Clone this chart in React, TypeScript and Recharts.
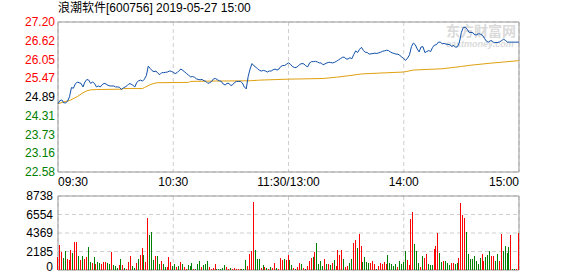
import { ComposedChart, Line, Bar, XAxis, YAxis, CartesianGrid, ReferenceArea } from "recharts"

// one point per minute, 09:30 .. 11:30 then 13:00 .. 15:00 (241 points)
const prices = [
  24.68, 24.78, 24.8, 24.71, 24.71, 24.76, 24.9, 25.18, 25.16, 25.29,
  25.35, 25.33, 25.31, 25.2, 25.35, 25.43, 25.41, 25.31, 25.35, 25.31,
  25.2, 25.23, 25.2, 25.27, 25.31, 25.29, 25.25, 25.23, 25.23, 25.23,
  25.2, 25.2, 25.19, 25.12, 25.17, 25.2, 25.24, 25.3, 25.29, 25.25,
  25.2, 25.34, 25.39, 25.41, 25.38, 25.44, 25.55, 25.84, 25.77, 25.7,
  25.67, 25.69, 25.62, 25.58, 25.64, 25.64, 25.65, 25.66, 25.69, 25.68,
  25.65, 25.61, 25.64, 25.7, 25.75, 25.71, 25.66, 25.61, 25.56, 25.51,
  25.52, 25.5, 25.45, 25.43, 25.42, 25.43, 25.39, 25.37, 25.31, 25.33,
  25.37, 25.45, 25.46, 25.42, 25.39, 25.37, 25.29, 25.26, 25.31, 25.31,
  25.24, 25.27, 25.34, 25.37, 25.37, 25.37, 25.32, 25.2, 25.14, 25.52,
  25.75, 25.92, 25.85, 25.81, 25.75, 25.71, 25.69, 25.71, 25.69, 25.66,
  25.69, 25.69, 25.73, 25.75, 25.72, 25.75, 25.83, 25.86, 25.86, 25.9,
  25.94, 25.9, 25.83, 25.8, 25.8, 25.84, 25.9, 25.92, 25.91, 25.85,
  25.82, 25.94, 25.98, 25.98, 25.99, 25.97, 25.94, 25.94, 25.88, 25.91,
  25.94, 25.96, 25.95, 25.94, 25.96, 25.99, 26.03, 26.07, 26.11, 26.12,
  26.06, 26.06, 26.1, 26.07, 26.2, 26.31, 26.26, 26.36, 26.42, 26.32,
  26.27, 26.26, 26.21, 26.22, 26.23, 26.24, 26.23, 26.25, 26.27, 26.3,
  26.31, 26.33, 26.32, 26.28, 26.25, 26.23, 26.21, 26.21, 26.17, 26.12,
  26.07, 26.02, 26.09, 26.19, 26.44, 26.55, 26.5, 26.37, 26.28, 26.43,
  26.44, 26.26, 26.29, 26.32, 26.29, 26.42, 26.49, 26.5, 26.58, 26.58,
  26.53, 26.54, 26.52, 26.51, 26.5, 26.45, 26.48, 26.42, 26.44, 26.58,
  26.88, 27.03, 27.04, 26.98, 26.88, 26.88, 26.87, 26.8, 26.81, 26.84,
  26.82, 26.79, 26.7, 26.61, 26.58, 26.62, 26.62, 26.56, 26.57, 26.57,
  26.59, 26.63, 26.67, 26.63, 26.58, 26.58, 26.58, 26.58, 26.58, 26.58,
  26.58,
]

// average price line, read at the minutes where it bends
const avgIdx = [0, 3, 6, 10, 13, 15, 17, 20, 33, 34, 44, 45, 48, 50, 52, 68, 69, 80, 100, 105, 120, 138, 145, 152, 158, 165, 180, 185, 200, 210, 215, 225, 240]
const avgVal = [24.68, 24.74, 24.78, 24.9, 25.02, 25.08, 25.11, 25.12, 25.13, 25.15, 25.15, 25.18, 25.27, 25.31, 25.33, 25.34, 25.37, 25.38, 25.39, 25.41, 25.44, 25.46, 25.5, 25.55, 25.6, 25.62, 25.66, 25.72, 25.76, 25.83, 25.87, 25.93, 26.01]

const volumes = [
  1500,
  2955, 2128, 1418, 2246, 1300, 1182, 2364, 2009, 3310, 3310,
  1655, 1182, 1655, 1300, 1537, 2719, 946, 827, 1537, 709,
  946, 827, 709, 946, 946, 827, 709, 2128, 591, 473,
  236, 591, 1300, 591, 236, 118, 946, 1655, 473, 236,
  827, 1300, 1773, 2600, 1773, 946, 6146, 4137, 4492, 1182,
  1655, 1655, 709, 1064, 709, 355, 355, 1537, 946, 473,
  709, 355, 473, 946, 709, 355, 118, 591, 473, 827,
  118, 118, 709, 1064, 355, 591, 709, 1064, 355, 118,
  236, 709, 118, 118, 118, 236, 591, 355, 118,
  236, 118, 236, 118, 118, 118, 118, 118, 1182, 473,
  1891, 2246, 8038, 2364, 1300, 1300, 236, 591, 355, 236,
  118, 355, 236, 827, 236, 118, 1418, 1182, 1300, 1182,
  1773, 1182, 591, 236, 118, 355, 827, 709, 236, 118,
  473, 1064, 1418, 1537, 2128, 3191, 709, 1064, 473, 1300,
  709, 709, 591, 827, 1182, 473, 2364, 1773, 2364, 1300,
  355, 473, 827, 1300, 3191, 3546, 2600, 4255, 2837, 946,
  1537, 946, 827, 827, 1064, 709, 118, 473, 827,
  709, 946, 709, 1773, 827, 709, 473, 709, 355, 1064,
  709, 946, 2246, 1182, 591, 6028, 6856, 3073, 2246, 827,
  355, 1655, 1418, 1891, 709, 591, 591, 2482, 2837, 4373,
  2009, 946, 1064, 1064, 827, 591, 827, 827, 709, 827,
  1418, 7919, 6501, 6146, 4492, 1891, 1300, 1300, 1655, 1064,
  709, 1418, 1891, 1064, 1537, 1773, 2246, 1655, 1655, 1064,
  1891, 1064, 4255, 2246, 2837, 2009, 2718, 4137, 118, 60, 60, 4373,
]

// r = up minute (red), g = down minute (green)
const volDir = (
  "r" +
  "rrggrrrgrr" + "grgrrggrgr" + "ggrrrggrgg" + "grgrgrrrgg" +
  "rgrrgrrggg" + "rggrggrrrg" + "grgrgrrggg" + "rgggrgggrr" +
  "rrgggggrr" + "grrrrrgggr" + "rrrgggrgrg" + "rgrrgrrrgr" +
  "rggrgrrgrg" + "rrrgrggggr" + "grgrgrrrrg" + "rrggrrgrrg" +
  "gggrrrgrr" + "rrrgggggrg" + "gggrrrrggg" + "rgrrgggrrr" +
  "ggrgggrrgg" + "rrrrgggggg" + "ggrrgggrrg" + "grrggggrggrr"
).split("")

const timeTicks = [0, 60, 120, 180, 240]
const timeLabels = ["09:30", "10:30", "11:30/13:00", "14:00", "15:00"]
const priceTicks = [27.2, 26.62, 26.05, 25.47, 24.89, 24.31, 23.73, 23.16, 22.58]
const pctLabels = ["9.29 %", "6.97 %", "4.64 %", "2.32 %", "0.00 %", "2.32 %", "4.64 %", "6.97 %", "9.29 %"]
const volTicks = [0, 2185, 4369, 6554, 8738]

const title = "浪潮软件[600756] 2019-05-27 15:00"

const rows = prices.map((p, i) => {
  const k = avgIdx.indexOf(i)
  return {
    i,
    price: p,
    avg: k >= 0 ? avgVal[k] : null,
    vol: volumes[i],
    up: volDir[i] === "r",
  }
})

const FONT = "'Liberation Sans', Arial, 'Noto Sans CJK SC', sans-serif"
const RED = "#ff0000"
const GREEN = "#008000"
const GRID = "#cfcfcf"
const BORDER = "#999999"

function levelColor(k: number) {
  if (k < 4) return RED
  if (k === 4) return "#000000"
  return GREEN
}

function PriceTick(props: any) {
  const { x, y, payload } = props
  const k = priceTicks.indexOf(payload.value)
  return (
    <text x={x} y={y} dy="0.355em" textAnchor="end" fill={levelColor(k)} fontSize={12} fontFamily={FONT}>
      {payload.value.toFixed(2)}
    </text>
  )
}

function PctTick(props: any) {
  const { x, y, payload } = props
  const k = priceTicks.indexOf(payload.value)
  return (
    <text x={x} y={y} dy="0.355em" textAnchor="start" fill={levelColor(k)} fontSize={12} fontFamily={FONT}>
      {pctLabels[k]}
    </text>
  )
}

function TimeTick(props: any) {
  const { x, y, payload } = props
  const k = timeTicks.indexOf(payload.value)
  const anchor = k === 0 ? "start" : k === timeTicks.length - 1 ? "end" : "middle"
  return (
    <text x={x} y={y + 14} textAnchor={anchor} fill="#000" fontSize={12} fontFamily={FONT}>
      {timeLabels[k]}
    </text>
  )
}

function VolTick(props: any) {
  const { x, y, payload } = props
  // the bottom label sits on the chart's lower edge, nudge it up a little
  const dy = payload.value === 0 ? "0.1em" : "0.355em"
  return (
    <text x={x} y={y} dy={dy} textAnchor="end" fill="#000" fontSize={12} fontFamily={FONT}>
      {payload.value}
    </text>
  )
}

function VolBar(props: any) {
  const { x, y, width, height, payload } = props
  if (!height || height <= 0) return null
  return (
    <rect
      x={Math.floor(x + width / 2)}
      y={y}
      width={1}
      height={height}
      fill={payload.up ? RED : GREEN}
      shapeRendering="crispEdges"
    />
  )
}

export default function App() {
  return (
    <div style={{ position: "absolute", left: 0, top: 0, width: 578, height: 276, background: "#fff", fontFamily: FONT }}>
      <div style={{ position: "absolute", left: 58, top: 2, fontSize: 12, lineHeight: "13px", color: "#000", whiteSpace: "nowrap" }}>{title}</div>
      <div style={{ position: "absolute", left: 446, top: 24, fontSize: 14, lineHeight: "14px", color: "#dadada", fontWeight: "bold", whiteSpace: "nowrap" }}>
        东方财富网
      </div>
      <div style={{ position: "absolute", left: 446, top: 40, fontSize: 9, lineHeight: "9px", color: "#dadada", fontStyle: "italic", fontWeight: "bold" }}>
        eastmoney.com
      </div>

      <div style={{ position: "absolute", left: 0, top: 0 }}>
        <ComposedChart width={578} height={192} data={rows} margin={{ top: 22, right: 0, bottom: 0, left: 0 }}>
          <CartesianGrid stroke={GRID} strokeDasharray="4 3" />
          <XAxis
            dataKey="i"
            type="number"
            domain={[0, 240]}
            ticks={timeTicks}
            interval={0}
            height={20}
            axisLine={false}
            tickLine={false}
            tickSize={0}
            tickMargin={0}
            tick={TimeTick}
          />
          <YAxis
            yAxisId="p"
            type="number"
            domain={[22.58, 27.2]}
            ticks={priceTicks}
            interval={0}
            width={58}
            axisLine={false}
            tickLine={false}
            tickSize={0}
            tickMargin={3}
            tick={PriceTick}
          />
          <YAxis
            yAxisId="pct"
            orientation="right"
            type="number"
            domain={[22.58, 27.2]}
            ticks={priceTicks}
            interval={0}
            width={59}
            axisLine={false}
            tickLine={false}
            tickSize={0}
            tickMargin={5}
            tick={PctTick}
          />
          <ReferenceArea yAxisId="p" x1={0} x2={240} y1={22.58} y2={27.2} fill="none" stroke={BORDER} strokeWidth={1} />
          <Line yAxisId="p" dataKey="avg" stroke="#e0a010" strokeWidth={1} dot={false} connectNulls isAnimationActive={false} />
          <Line yAxisId="p" dataKey="price" stroke="#0f4fa8" strokeWidth={1} dot={false} isAnimationActive={false} />
        </ComposedChart>
      </div>

      <div style={{ position: "absolute", left: 0, top: 190 }}>
        <ComposedChart width={578} height={86} data={rows} margin={{ top: 6, right: 59, bottom: 6, left: 0 }}>
          <CartesianGrid stroke={GRID} strokeDasharray="4 3" />
          <XAxis dataKey="i" type="number" domain={[0, 240]} ticks={timeTicks} hide />
          <YAxis
            type="number"
            domain={[0, 8738]}
            ticks={volTicks}
            interval={0}
            width={58}
            axisLine={false}
            tickLine={false}
            tickSize={0}
            tickMargin={5}
            tick={VolTick}
          />
          <Bar dataKey="vol" barSize={1} shape={VolBar} isAnimationActive={false} />
          <ReferenceArea x1={0} x2={240} y1={0} y2={8738} fill="none" stroke={BORDER} strokeWidth={1} />
        </ComposedChart>
      </div>
    </div>
  )
}
